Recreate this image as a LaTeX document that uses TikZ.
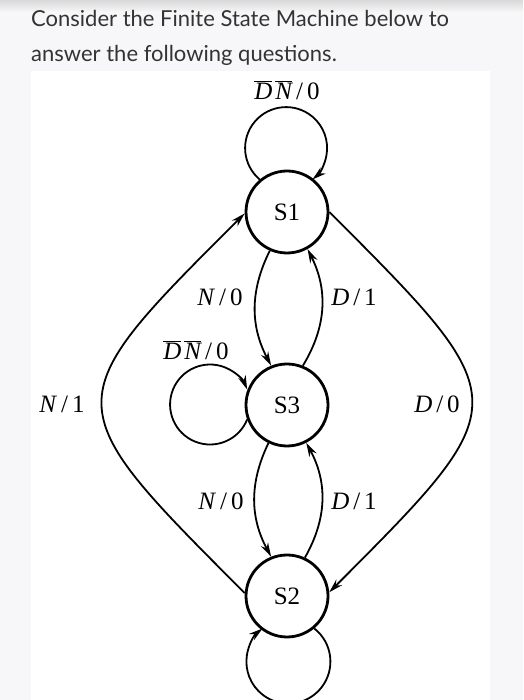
\documentclass[tikz,border=0pt]{standalone}
\usepackage{fontspec}
\setmainfont{Liberation Serif}
\newfontfamily\headfont{Lato}
\usepackage{tikz}
\usetikzlibrary{arrows.meta}
\definecolor{pagegray}{HTML}{F7F7F9}
\definecolor{headtext}{HTML}{333333}
\tikzset{state/.style={draw,circle,line width=2.8pt,minimum size=82pt,inner sep=0pt,font=\fontsize{25}{25}\selectfont}}
\tikzset{trans/.style={line width=1.8pt,-{Stealth[length=14pt,width=8pt]}}}
\tikzset{lbl/.style={font=\fontsize{25}{25}\selectfont}}
\tikzset{head/.style={anchor=base west,inner sep=0pt,text=headtext,font=\headfont\fontsize{22}{22}\selectfont}}
\newcommand{\io}[2]{#1\kern4pt/\kern4pt#2}

\begin{document}
\begin{tikzpicture}[x=1pt,y=1pt]
\useasboundingbox (0,0) rectangle (523,700);
\fill[pagegray] (0,0) rectangle (523,700);
\shade[top color=gray!30,bottom color=pagegray] (0,688) rectangle (523,700);
\fill[white] (31,0) rectangle (490,629);
\draw(31,673) node[head] (q1) {Consider the Finite State Machine below to};
\draw(31,638) node[head] (q2) {answer the following questions.};

% states
\draw(287,488) node[state] (s1) {S1};
\draw(287,295) node[state] (s3) {S3};
\draw(287,104) node[state] (s2) {S2};

% self loops
\draw[trans] (s1.130) arc[start angle=230,end angle=-50,radius=41];
\draw[trans] (s3.200) arc[start angle=-22,end angle=-338,radius=40];
\draw[trans] (s2.-50) arc[start angle=52,end angle=-232,radius=42];

% between states
\draw[trans] (s1.246) to[bend right=27] (s3.112);
\draw[trans] (s3.68) to[bend right=29] (s1.-61);
\draw[trans] (s3.244) to[bend right=27] (s2.112);
\draw[trans] (s2.65) to[bend right=29] (s3.-63);

% outer arcs
\draw[trans] (s2.176) .. controls (54.7,297) and (54.7,297) .. (s1.182);
\draw[trans] (s1.0) .. controls (519,298) and (519,298) .. (s2.5);

% labels
\draw(287,610) node[lbl] (l11) {\io{$\overline{\textit{D}}\kern3pt\overline{\textit{N}}$}{0}};
\draw(220,403) node[lbl] (l13) {\io{\textit{N}}{0}};
\draw(354,403) node[lbl] (l31) {\io{\textit{D}}{1}};
\draw(196,350) node[lbl] (l33) {\io{$\overline{\textit{D}}\kern3pt\overline{\textit{N}}$}{0}};
\draw(62,296) node[lbl] (l21) {\io{\textit{N}}{1}};
\draw(437,296) node[lbl] (l12) {\io{\textit{D}}{0}};
\draw(221,199) node[lbl] (l32) {\io{\textit{N}}{0}};
\draw(354,199) node[lbl] (l23) {\io{\textit{D}}{1}};

\end{tikzpicture}
\end{document}
